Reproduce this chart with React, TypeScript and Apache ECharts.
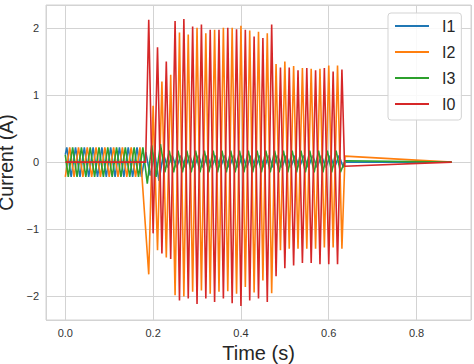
import React, { useEffect, useRef } from "react";
import * as echarts from "echarts";

// spacing between successive extrema (half a 50 Hz period), seconds
const STEP = 0.01;

const X_MIN = -0.044;
const X_MAX = 0.924;
const Y_MIN = -2.35;
const Y_MAX = 2.34;
const X_TICK = 0.2;
const Y_TICK = 1;

// I1 (blue): extrema, first one at t = 0.0033 s
const I1_HEAD = [[0, 0.11]];
const I1_START = 0.0033;
const I1_PEAKS = [
  0.22, -0.22, 0.22, -0.22, 0.22, -0.22, 0.22, -0.22, 0.22, -0.22,
  0.22, -0.22, 0.22, -0.22, 0.22, -0.22, 0.22, -0.22,
  0.15, -0.2, 0.15, -0.28, 0.12,
  -0.08, 0.1, -0.08, 0.1, -0.08, 0.1, -0.08, 0.1, -0.08, 0.1,
  -0.08, 0.1, -0.08, 0.1, -0.08, 0.1, -0.08, 0.1, -0.08, 0.1,
  -0.08, 0.1, -0.08, 0.1, -0.08, 0.1, -0.08, 0.1, -0.08, 0.1,
  -0.08, 0.1, -0.08, 0.1, -0.08, 0.1, -0.08, 0.1, -0.08, 0.1,
  -0.08,
];
const I1_TAIL = [[0.637, 0.0], [0.88, 0.0]];

// I2 (orange): pre-fault extrema from t = 0, fault extrema from t = 0.19 s
const I2_PRE_START = 0;
const I2_PRE = [
  -0.22, 0.22, -0.22, 0.22, -0.22, 0.22, -0.22, 0.22, -0.22, 0.22,
  -0.22, 0.22, -0.22, 0.22, -0.22, 0.22, -0.22, 0.22,
];
const I2_FAULT_START = 0.19;
const I2_FAULT = [
  -1.67, 0.84, -1.31, 1.2, -1.42, 1.3, -1.98, 1.93, -2.0, 1.9,
  -1.93, 2.0, -1.91, 1.92, -1.96, 1.97, -1.93, 2.0, -1.92, 2.0,
  -1.96, 2.03, -1.86, 1.96, -1.94, 1.94, -1.76, 1.92, -1.95, 1.46,
  -1.31, 1.5, -1.29, 1.43, -1.29, 1.4, -1.29, 1.39, -1.29, 1.39,
  -1.27, 1.44, -1.27, 1.44, -1.29,
];
const I2_TAIL = [[0.637, 0.09], [0.88, 0.0]];

// I3 (green): extrema, first one at t = 0.0067 s
const I3_HEAD = [[0, 0.11]];
const I3_START = 0.0067;
const I3_PEAKS = [
  -0.22, 0.22, -0.22, 0.22, -0.22, 0.22, -0.22, 0.22, -0.22, 0.22,
  -0.22, 0.22, -0.22, 0.22, -0.22, 0.22, -0.22, 0.22,
  -0.32, 0.25, -0.22, 0.27,
  -0.15, 0.17, -0.15, 0.17, -0.15, 0.17, -0.15, 0.17, -0.15, 0.17,
  -0.15, 0.17, -0.15, 0.17, -0.15, 0.17, -0.15, 0.17, -0.15, 0.17,
  -0.15, 0.17, -0.15, 0.17, -0.15, 0.17, -0.15, 0.17, -0.15, 0.17,
  -0.15, 0.17, -0.15, 0.17, -0.15, 0.17, -0.15, 0.17, -0.15, 0.17,
  -0.15,
];
const I3_TAIL = [[0.637, 0.02], [0.88, 0.0]];

// I0 (red): zero before the fault, fault extrema from t = 0.19 s
const I0_HEAD = [[0, 0.0], [0.183, 0.0]];
const I0_FAULT_START = 0.19;
const I0_FAULT = [
  2.12, -1.06, 1.71, -1.36, 1.5, -1.44, 2.1, -2.06, 2.13, -2.03,
  2.02, -2.11, 2.05, -2.03, 1.97, -2.08, 1.97, -2.03, 2.0, -2.1,
  1.98, -2.14, 1.97, -2.06, 1.87, -2.03, 1.85, -2.08, 2.05, -1.7,
  1.41, -1.58, 1.41, -1.54, 1.37, -1.5, 1.4, -1.5, 1.37, -1.52,
  1.4, -1.52, 1.35, -1.52, 1.38,
];
const I0_TAIL = [[0.636, -0.06], [0.88, 0.0]];

const NAMES = ["I1", "I2", "I3", "I0"];
const COLORS = ["#1f77b4", "#ff7f0e", "#2ca02c", "#d62728"];

const FONT = "'Liberation Sans', Arial, Helvetica, sans-serif";

function seq(start: number, values: number[]) {
  return values.map((v, i) => [start + i * STEP, v]);
}

const DATA = [
  [...I1_HEAD, ...seq(I1_START, I1_PEAKS), ...I1_TAIL],
  [...seq(I2_PRE_START, I2_PRE), ...seq(I2_FAULT_START, I2_FAULT), ...I2_TAIL],
  [...I3_HEAD, ...seq(I3_START, I3_PEAKS), ...I3_TAIL],
  [...I0_HEAD, ...seq(I0_FAULT_START, I0_FAULT), ...I0_TAIL],
];

function fmtY(v: number) {
  return v < 0 ? "\u2212" + Math.abs(v) : String(v);
}

export default function App() {
  const ref = useRef<HTMLDivElement>(null);
  useEffect(() => {
    if (!ref.current) return;
    const chart = echarts.init(ref.current, null, { renderer: "svg" });
    chart.setOption({
      animation: false,
      backgroundColor: "#ffffff",
      grid: {
        left: 46,
        right: 3,
        top: 5,
        bottom: 44,
        show: true,
        borderColor: "#d3d3d3",
        borderWidth: 1,
        backgroundColor: "#ffffff",
        containLabel: false,
        outerBoundsMode: "none",
      },
      legend: {
        orient: "vertical",
        left: 388,
        top: 13,
        data: NAMES.map((n) => ({ name: n, icon: "rect" })),
        itemWidth: 34,
        itemHeight: 2,
        itemGap: 8,
        padding: [4, 6, 7, 7],
        backgroundColor: "rgba(255,255,255,0.85)",
        borderColor: "#d3d3d3",
        borderWidth: 1,
        borderRadius: 3,
        textStyle: {
          fontFamily: FONT,
          fontSize: 16,
          color: "#262626",
          lineHeight: 16,
          padding: [2, 0, 0, 8],
        },
      },
      xAxis: {
        type: "value",
        min: X_MIN,
        max: X_MAX,
        minInterval: X_TICK,
        maxInterval: X_TICK,
        name: "Time (s)",
        nameLocation: "middle",
        nameGap: 19,
        nameTextStyle: { fontFamily: FONT, fontSize: 20, color: "#262626" },
        axisLine: { show: false },
        axisTick: { show: false },
        axisLabel: {
          fontFamily: FONT,
          fontSize: 11,
          color: "#333333",
          margin: 7,
          showMinLabel: false,
          showMaxLabel: false,
          formatter: (v: number) => v.toFixed(1),
        },
        splitLine: { show: true, lineStyle: { color: "#d3d3d3", width: 1 } },
      },
      yAxis: {
        type: "value",
        min: Y_MIN,
        max: Y_MAX,
        minInterval: Y_TICK,
        maxInterval: Y_TICK,
        name: "Current (A)",
        nameLocation: "middle",
        nameGap: 20,
        nameTextStyle: {
          fontFamily: FONT,
          fontSize: 19.5,
          lineHeight: 18,
          color: "#262626",
        },
        axisLine: { show: false },
        axisTick: { show: false },
        axisLabel: {
          fontFamily: FONT,
          fontSize: 11,
          color: "#333333",
          margin: 7,
          showMinLabel: false,
          showMaxLabel: false,
          formatter: fmtY,
        },
        splitLine: { show: true, lineStyle: { color: "#d3d3d3", width: 1 } },
      },
      series: NAMES.map((name, i) => ({
        name,
        type: "line",
        data: DATA[i],
        showSymbol: false,
        symbol: "none",
        color: COLORS[i],
        itemStyle: { color: COLORS[i] },
        lineStyle: { width: 1.6, color: COLORS[i] },
        clip: true,
      })),
    });
    return () => chart.dispose();
  }, []);
  return (
    <div
      ref={ref}
      style={{ position: "absolute", left: 0, top: 0, width: 474, height: 364 }}
    />
  );
}
